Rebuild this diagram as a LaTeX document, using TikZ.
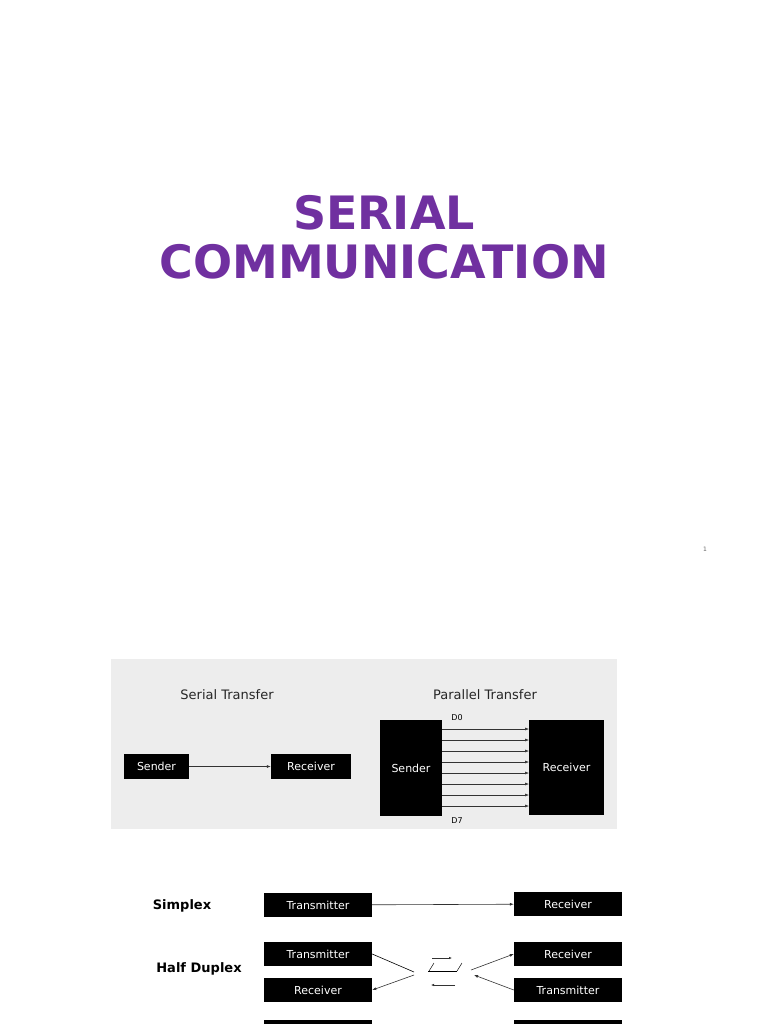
\documentclass[tikz,border=0pt]{standalone}
\usepackage{fontspec}
\setmainfont{DejaVu Sans}
\usetikzlibrary{arrows.meta}
\definecolor{ttl}{HTML}{7030A0}
\begin{document}
\begin{tikzpicture}[x=1pt,y=-1pt,
 blk/.style={fill=black,text=white,font=\fontsize{11}{11}\selectfont,inner sep=0pt},
 arr/.style={-{Latex[length=4pt,width=3pt]},line width=0.6pt,draw=black!80},
 lbl/.style={font=\fontsize{13}{13}\selectfont,text=black!85}]
\useasboundingbox (0,0) rectangle (768,1024);
\fill[white] (0,0) rectangle (768,1024);
\node[text=ttl,font=\bfseries\fontsize{46}{46}\selectfont] (t1) at (384,213) {SERIAL};
\node[text=ttl,font=\bfseries\fontsize{46}{46}\selectfont] (t2) at (384,262) {COMMUNICATION};
\node[text=black!60,font=\fontsize{6}{6}\selectfont] (pg) at (705,549) {1};
\fill[black!7] (111,659) rectangle (617,829);
\node[lbl] (st) at (227,695) {Serial Transfer};
\node[lbl] (pt) at (485,695) {Parallel Transfer};
\node[blk,minimum width=65,minimum height=25] (s1) at (156.5,766.5) {Sender};
\node[blk,minimum width=80,minimum height=25] (r1) at (311,766.5) {Receiver};
\draw[arr] (s1) -- (r1);
\node[blk,minimum width=62,minimum height=96] (s2) at (411,768) {Sender};
\node[blk,minimum width=75,minimum height=95] (r2) at (566.5,767.5) {Receiver};
\foreach \i in {0,...,7}{
 \coordinate (a\i) at (442,{729+11*\i});
 \coordinate (b\i) at (529,{729+11*\i});
 \draw[arr,line width=0.5pt] (a\i) -- (b\i);}
\node[font=\fontsize{8}{8}\selectfont] (d0) at (457,718) {D0};
\node[font=\fontsize{8}{8}\selectfont] (d7) at (457,821) {D7};
\node[font=\bfseries\fontsize{13}{13}\selectfont] (sx) at (182,906) {Simplex};
\node[font=\bfseries\fontsize{13}{13}\selectfont] (hd) at (199,969) {Half Duplex};
\tikzset{bb/.style={blk,minimum width=108,minimum height=24}}
\node[bb] (tx1) at (318,905) {Transmitter};
\node[bb] (rx1) at (568,904) {Receiver};
\draw[arr] (tx1) -- (rx1);
\node[bb] (tx2) at (318,954) {Transmitter};
\node[bb] (rx2) at (318,990) {Receiver};
\node[bb] (rx3) at (568,954) {Receiver};
\node[bb] (tx3) at (568,990) {Transmitter};
\coordinate (m1) at (414,972);
\coordinate (m2) at (471,970);
\draw[line width=0.6pt] (tx2.east) -- (m1);
\draw[arr] (414,975) -- (rx2.east);
\draw[arr] (m2) -- (rx3.west);
\draw[arr] (tx3.west) -- (474,975);
\draw[arr,-{Latex[length=3pt,width=2.5pt]}] (432,958) -- (452,958);
\draw[arr,-{Latex[length=3pt,width=2.5pt]}] (455,985) -- (431,985);
\draw[line width=0.7pt] (428,971) -- (457,971);
\draw[line width=0.5pt] (429,971) -- (434,963);
\draw[line width=0.5pt] (457,971) -- (462,963);
\fill[black] (264,1020) rectangle (372,1024);
\fill[black] (514,1020) rectangle (622,1024);
\end{tikzpicture}
\end{document}
